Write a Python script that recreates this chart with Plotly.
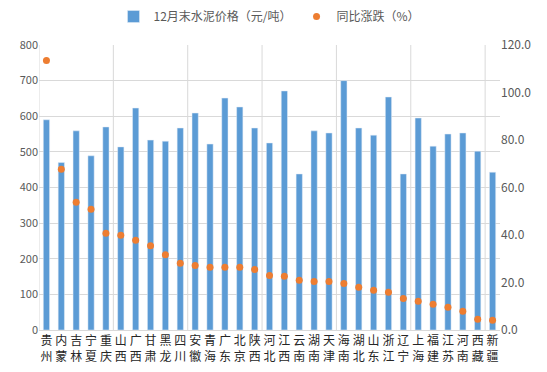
import plotly.graph_objects as go

provinces = ["贵州", "内蒙", "吉林", "宁夏", "重庆", "山西", "广西", "甘肃", "黑龙", "四川",
             "安徽", "青海", "广东", "北京", "陕西", "河北", "江西", "云南", "湖南", "天津",
             "海南", "湖北", "山东", "浙江", "辽宁", "上海", "福建", "江苏", "河南", "西藏", "新疆"]
price = [590, 470, 559, 489, 570, 514, 623, 533, 530, 567,
         609, 522, 651, 626, 567, 525, 671, 438, 559, 553,
         700, 567, 547, 654, 438, 595, 516, 550, 553, 502, 443]
yoy = [113.5, 67.7, 53.8, 50.8, 40.7, 39.9, 37.8, 35.5, 31.7, 28.1,
       27.2, 26.4, 26.4, 26.4, 25.5, 23.0, 22.6, 20.9, 20.4, 20.4,
       19.6, 18.0, 16.7, 15.9, 13.3, 12.1, 10.8, 9.6, 7.9, 4.5, 4.1]

labels = ["<br>".join(list(p)) for p in provinces]

fig = go.Figure()
fig.add_trace(go.Bar(x=labels, y=price, name="12月末水泥价格（元/吨）",
                     marker_color="#5b9bd5", width=0.42))
fig.add_trace(go.Scatter(x=labels, y=yoy, name="同比涨跌（%）", mode="markers",
                         marker=dict(color="#ed7d31", size=7), yaxis="y2"))

grid = "#d9d9d9"
for k in range(0, 31, 5):
    fig.add_shape(type="line", xref="x", yref="paper", x0=k - 0.5, x1=k - 0.5, y0=0, y1=1,
                  line=dict(color=grid, width=1), layer="below")

fig.update_layout(
    width=539, height=364,
    margin=dict(l=31, r=47, t=37, b=42, autoexpand=False),
    paper_bgcolor="white", plot_bgcolor="white",
    font=dict(family="Noto Sans CJK SC, Noto Sans, sans-serif", color="#595959", size=11),
    showlegend=True,
    legend=dict(orientation="h", x=0.5, xanchor="center", y=1.1, yanchor="middle",
                font=dict(size=12, color="#595959"), itemwidth=30, tracegroupgap=0),
    bargap=0.5,
    xaxis=dict(type="category", range=[-0.5, 30.5], showgrid=False, ticks="",
               tickmode="array", tickvals=labels, ticktext=labels,
               tickfont=dict(size=12, color="#262626"), tickangle=0,
               showline=True, linecolor=grid),
    yaxis=dict(range=[0, 800], dtick=100, showgrid=True, gridcolor=grid, zeroline=False,
               tickfont=dict(size=11, color="#595959"), ticks=""),
    yaxis2=dict(range=[0, 120], dtick=20, overlaying="y", side="right", showgrid=False,
                zeroline=False, tickformat=".1f", tickfont=dict(size=12, color="#595959")),
)

fig.write_html("out.html")
